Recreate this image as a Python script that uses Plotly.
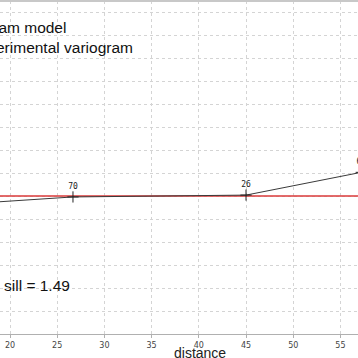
import plotly.graph_objects as go

# experimental variogram (distance, semivariance, number of pairs)
exp_dist = [8.5, 26.67, 45.0, 57.2]
exp_gamma = [1.437, 1.486, 1.494, 1.593]
exp_npairs = ["45", "70", "26", "64"]

# fitted model (flat at the sill in the visible range)
sill = 1.49
model_dist = [0, 70]

x_ticks = [20, 25, 30, 35, 40, 45, 50, 55]

fig = go.Figure()
fig.add_trace(go.Scatter(
    x=model_dist, y=[sill, sill], mode="lines",
    line=dict(color="rgba(220,70,70,0.8)", width=1.8),
    name="variogram model", hoverinfo="skip"))
fig.add_trace(go.Scatter(
    x=exp_dist, y=exp_gamma, mode="lines+markers+text",
    line=dict(color="#3a3a3a", width=1),
    marker=dict(symbol="cross-thin", size=8, line=dict(color="#222", width=1), color="#222"),
    text=exp_npairs, textposition="top center",
    textfont=dict(family="DejaVu Sans Mono", size=8, color="#222"),
    name="experimental variogram"))

fig.update_layout(
    width=358, height=358,
    margin=dict(l=0, r=0, t=1, b=24),
    paper_bgcolor="white", plot_bgcolor="white",
    showlegend=False,
    font=dict(family="Liberation Sans", color="#111"),
)
fig.update_xaxes(
    range=[18.94, 56.86], tickvals=x_ticks,
    showgrid=True, gridcolor="#d4d4d4", griddash="dot", gridwidth=1,
    showline=True, linecolor="#b0b0b0", linewidth=1,
    ticks="outside", ticklen=3, tickcolor="#b0b0b0",
    tickfont=dict(family="DejaVu Sans", size=8, color="#444"),
    zeroline=False,
)
fig.update_yaxes(
    range=[0.89, 2.338], tick0=sill, dtick=0.1,
    showticklabels=False,
    showgrid=True, gridcolor="#d4d4d4", griddash="dot", gridwidth=1,
    zeroline=False,
)
fig.add_shape(type="line", xref="paper", yref="paper", x0=0, x1=1, y0=1, y1=1,
              line=dict(color="#c8c8c8", width=2))

# legend-like texts (partly cut at the left edge of the view)
fig.add_annotation(text="variogram model", xref="paper", yref="paper",
                   x=68/358, y=1-28/333 + 1/333, xanchor="right", yanchor="middle",
                   showarrow=False, font=dict(size=15.5, color="#111"))
fig.add_annotation(text="experimental variogram", xref="paper", yref="paper",
                   x=135/358, y=1-47/333 + 1/333, xanchor="right", yanchor="middle",
                   showarrow=False, font=dict(size=15.5, color="#111"))
fig.add_annotation(text="sill = 1.49", xref="paper", yref="paper",
                   x=2/358, y=1-285/333 + 1/333, xanchor="left", yanchor="middle",
                   showarrow=False, font=dict(size=15.5, color="#111"))
fig.add_annotation(text="distance", xref="paper", yref="paper",
                   x=200/358, y=-(353-334)/333, xanchor="center", yanchor="middle",
                   showarrow=False, font=dict(size=14, color="#222"))

fig.write_html("out.html")
